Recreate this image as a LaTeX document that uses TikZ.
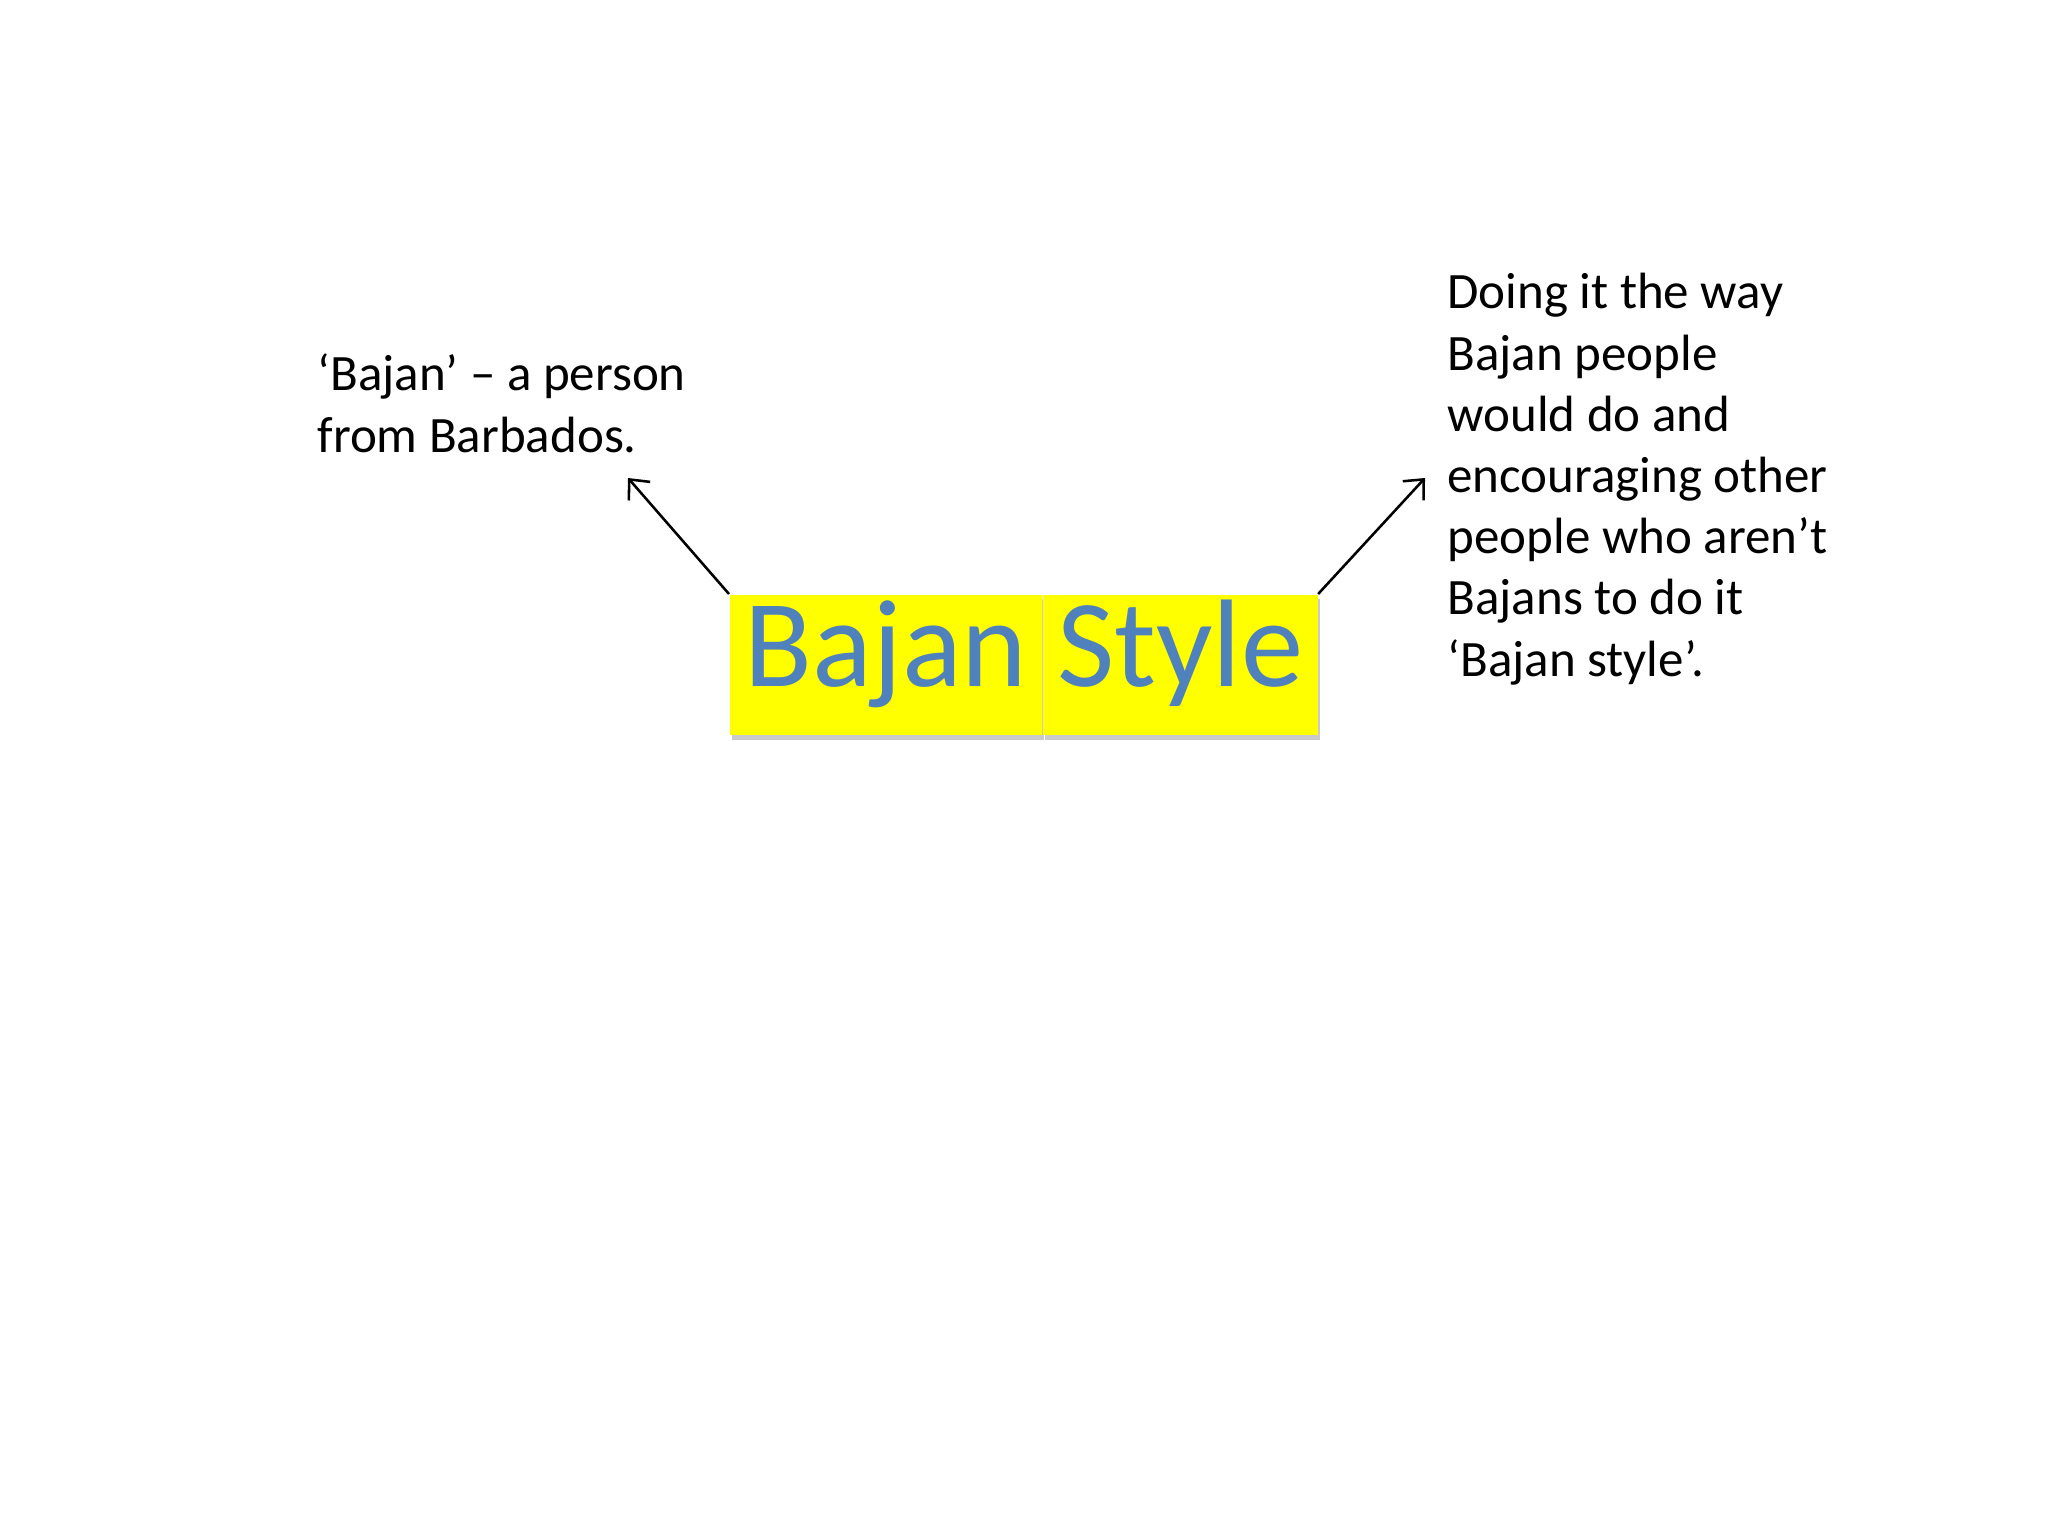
\documentclass[tikz,border=0pt]{standalone}
\usepackage{fontspec}
\setmainfont{Carlito}
\usetikzlibrary{arrows.meta,shadows}

\definecolor{bajanblue}{HTML}{4F81BD}
\definecolor{bajanyellow}{HTML}{FFFF00}

\tikzset{
  wordbox/.style={fill=bajanyellow, minimum height=1.748cm, inner sep=0pt,
    text=bajanblue, font=\fontsize{44pt}{52pt}\selectfont,
    text height=30pt, text depth=14.9pt,
    drop shadow={shadow xshift=0.7pt, shadow yshift=-1.6pt, fill=black!60, opacity=0.35}},
  note/.style={align=left, inner sep=0pt, anchor=base west,
    font=\fontsize{18pt}{21.6pt}\selectfont},
  pointer/.style={-{Straight Barb[length=5.5pt,width=10pt]}, line width=0.9pt}
}

\begin{document}
\begin{tikzpicture}[x=0.0124cm,y=-0.0124cm]
    \useasboundingbox (0,0) rectangle (2048,1536);
    % the two yellow word boxes
    \node[wordbox, minimum width=3.88cm, anchor=north west] (bajan) at (729,594) {Bajan};
    \node[wordbox, minimum width=3.40cm, anchor=north west] (style) at (bajan.north east) {Style};
    % notes (base = last line)
    \node[note] (person) at (317,452) {‘Bajan’ – a person\\from Barbados.};
    \node[note] (meaning) at (1447,676) {Doing it the way\\Bajan people\\would do and\\encouraging other\\people who aren’t\\Bajans to do it\\‘Bajan style’.};
    \coordinate (lefttip) at (628,478);
    \coordinate (righttip) at (1425,478);
    \draw[pointer] (bajan.north west) -- (lefttip);
    \draw[pointer] (style.north east) -- (righttip);
\end{tikzpicture}
\end{document}
